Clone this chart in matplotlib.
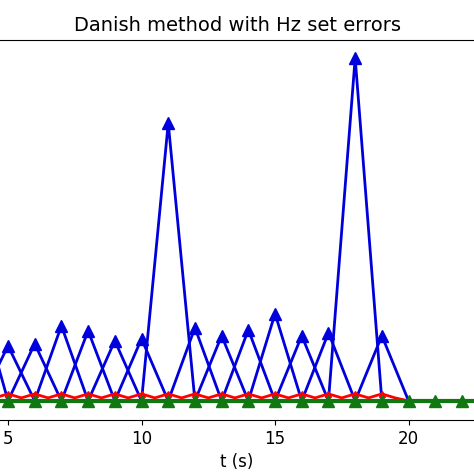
import matplotlib
matplotlib.use("Agg")
import matplotlib.pyplot as plt

# peak heights of the blue error series at each second
t_peaks = [4, 5, 6, 7, 8, 9, 10, 11, 12, 13, 14, 15, 16, 17, 18, 19]
peaks = [95, 55, 57, 75, 70, 60, 62, 277, 73, 65, 71, 87, 65, 68, 342, 65]

t_red = [4, 4.5, 5, 5.5, 6, 6.5, 7, 7.5, 8, 8.5, 9, 9.5, 10, 10.5, 11, 11.5, 12, 12.5,
         13, 13.5, 14, 14.5, 15, 15.5, 16, 16.5, 17, 17.5, 18, 18.5, 19, 19.5, 20]
red = [7, 3, 7, 3, 7, 3, 7, 3, 7, 3, 7, 3, 7, 3, 7, 3, 7, 3,
       7, 3, 7, 3, 7, 3, 7, 3, 7, 3, 7, 3, 7, 3, 0]

t_green = [4, 5, 6, 7, 8, 9, 10, 11, 12, 13, 14, 15, 16, 17, 18, 19, 20, 21, 22, 23]
green = [0] * len(t_green)

fig = plt.figure(figsize=(4.74, 4.74), dpi=100)
ax = fig.add_axes([0, 0.114, 1.0, 0.802])

# each peak is its own triangle: zero one second before and after
for t, p in zip(t_peaks, peaks):
    ax.plot([t - 1, t, t + 1], [0, p, 0], color="#0000dd", lw=2,
            marker="^", markersize=8, markevery=[1])

ax.plot(t_red, red, color="red", lw=2, marker="^", markersize=4, markevery=list(range(0, 33, 2)))
ax.plot(t_green, green, color="#117711", lw=3, marker="^", markersize=9)

ax.set_xlim(4.7, 22.45)
ax.set_ylim(-19, 360)
ax.set_yticks([])
ax.set_xticks([5, 10, 15, 20])
ax.tick_params(labelsize=12)
ax.spines["left"].set_visible(False)
ax.spines["right"].set_visible(False)
ax.set_xlabel("t (s)", fontsize=12)
ax.set_title("Danish method with Hz set errors", fontsize=14)

fig.savefig("out.png", dpi=100)
